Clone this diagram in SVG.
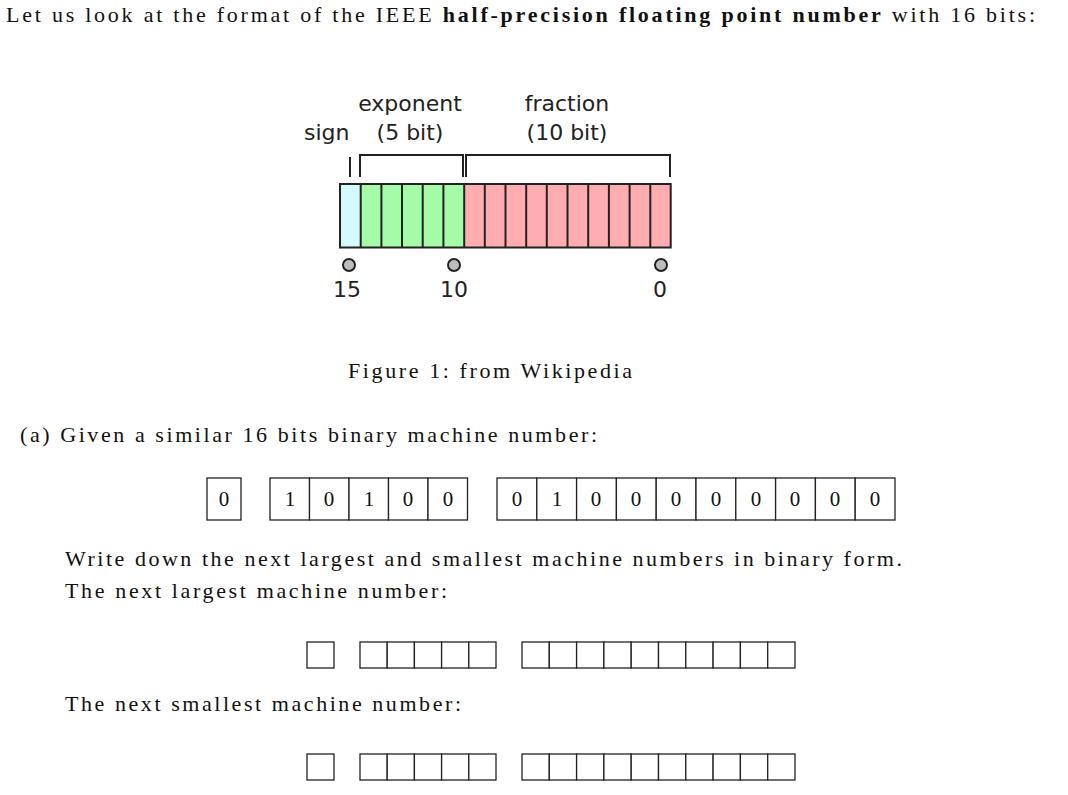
<svg xmlns="http://www.w3.org/2000/svg" width="1068" height="795" viewBox="0 0 1068 795">
<style>
.t{font-family:"Liberation Serif",serif;font-size:22px;fill:#111}
.d{font-family:"DejaVu Sans",sans-serif;font-size:22px;fill:#222}
.b{fill:#fff;stroke:#222;stroke-width:1.3}
.c{fill:none;stroke:#222;stroke-width:2}
.n{font-family:"Liberation Serif",serif;font-size:21px;fill:#111;text-anchor:middle}
</style>
<rect width="1068" height="795" fill="#fff"/>
<text class="t" x="6" y="22" textLength="1029" lengthAdjust="spacing">Let us look at the format of the IEEE <tspan font-weight="bold">half-precision floating point number</tspan> with 16 bits:</text>
<g id="figure">
<text class="d" x="410" y="111" text-anchor="middle">exponent</text>
<text class="d" x="410" y="140" text-anchor="middle">(5 bit)</text>
<text class="d" x="304" y="140">sign</text>
<text class="d" x="567" y="111" text-anchor="middle">fraction</text>
<text class="d" x="567" y="140" text-anchor="middle">(10 bit)</text>
<path class="c" d="M350 157V177M360 177V155H463V177M466 177V155H670V177"/>
<rect x="340" y="184" width="20.7" height="63.5" fill="#d2faff"/>
<rect x="360.7" y="184" width="103.5" height="63.5" fill="#a4fba8"/>
<rect x="464.2" y="184" width="206.5" height="63.5" fill="#ffadb0"/>
<g stroke="#222" stroke-width="2">
<rect x="340" y="184" width="330.7" height="63.5" fill="none"/>
<path d="M360.7 184v63.5M381.4 184v63.5M402 184v63.5M422.7 184v63.5M443.4 184v63.5M464.2 184v63.5M484.8 184v63.5M505.5 184v63.5M526.2 184v63.5M546.8 184v63.5M567.5 184v63.5M588.2 184v63.5M608.9 184v63.5M629.6 184v63.5M650.3 184v63.5"/>
</g>
<g fill="#bdbdbd" stroke="#222" stroke-width="2">
<circle cx="349" cy="265" r="6"/><circle cx="454" cy="265" r="6"/><circle cx="661" cy="265" r="6"/>
</g>
<text class="d" x="347" y="297" text-anchor="middle">15</text>
<text class="d" x="454" y="297" text-anchor="middle">10</text>
<text class="d" x="660" y="297" text-anchor="middle">0</text>
</g>
<text class="t" x="348" y="378" textLength="284" lengthAdjust="spacing">Figure 1: from Wikipedia</text>
<text class="t" x="20" y="442" textLength="577" lengthAdjust="spacing">(a) Given a similar 16 bits binary machine number:</text>
<g id="given">
<rect class="b" x="207" y="478" width="34" height="42"/>
<text class="n" x="224" y="506">0</text>
<g id="gexp">
<rect class="b" x="270" y="478" width="39.5" height="42"/><rect class="b" x="309.5" y="478" width="39.5" height="42"/><rect class="b" x="349" y="478" width="39.5" height="42"/><rect class="b" x="388.5" y="478" width="39.5" height="42"/><rect class="b" x="428" y="478" width="39.5" height="42"/>
<text class="n" x="290" y="506">1</text><text class="n" x="329" y="506">0</text><text class="n" x="369" y="506">1</text><text class="n" x="408" y="506">0</text><text class="n" x="448" y="506">0</text>
</g>
<g id="gfrac">
<rect class="b" x="497" y="478" width="39.8" height="42"/><rect class="b" x="536.8" y="478" width="39.8" height="42"/><rect class="b" x="576.6" y="478" width="39.8" height="42"/><rect class="b" x="616.4" y="478" width="39.8" height="42"/><rect class="b" x="656.2" y="478" width="39.8" height="42"/><rect class="b" x="696" y="478" width="39.8" height="42"/><rect class="b" x="735.8" y="478" width="39.8" height="42"/><rect class="b" x="775.6" y="478" width="39.8" height="42"/><rect class="b" x="815.4" y="478" width="39.8" height="42"/><rect class="b" x="855.2" y="478" width="39.8" height="42"/>
<text class="n" x="517" y="506">0</text><text class="n" x="557" y="506">1</text><text class="n" x="596" y="506">0</text><text class="n" x="636" y="506">0</text><text class="n" x="676" y="506">0</text><text class="n" x="716" y="506">0</text><text class="n" x="756" y="506">0</text><text class="n" x="795" y="506">0</text><text class="n" x="835" y="506">0</text><text class="n" x="875" y="506">0</text>
</g>
</g>
<text class="t" x="65" y="566" textLength="837" lengthAdjust="spacing">Write down the next largest and smallest machine numbers in binary form.</text>
<text class="t" x="65" y="598" textLength="382" lengthAdjust="spacing">The next largest machine number:</text>
<g id="largest">
<rect class="b" x="307" y="642" width="27" height="26"/>
<rect class="b" x="360" y="642" width="27.2" height="26"/><rect class="b" x="387.2" y="642" width="27.2" height="26"/><rect class="b" x="414.4" y="642" width="27.2" height="26"/><rect class="b" x="441.6" y="642" width="27.2" height="26"/><rect class="b" x="468.8" y="642" width="27.2" height="26"/>
<rect class="b" x="522" y="642" width="27.3" height="26"/><rect class="b" x="549.3" y="642" width="27.3" height="26"/><rect class="b" x="576.6" y="642" width="27.3" height="26"/><rect class="b" x="603.9" y="642" width="27.3" height="26"/><rect class="b" x="631.2" y="642" width="27.3" height="26"/><rect class="b" x="658.5" y="642" width="27.3" height="26"/><rect class="b" x="685.8" y="642" width="27.3" height="26"/><rect class="b" x="713.1" y="642" width="27.3" height="26"/><rect class="b" x="740.4" y="642" width="27.3" height="26"/><rect class="b" x="767.7" y="642" width="27.3" height="26"/>
</g>
<text class="t" x="65" y="711" textLength="396" lengthAdjust="spacing">The next smallest machine number:</text>
<g id="smallest">
<rect class="b" x="307" y="754" width="27" height="26"/>
<rect class="b" x="360" y="754" width="27.2" height="26"/><rect class="b" x="387.2" y="754" width="27.2" height="26"/><rect class="b" x="414.4" y="754" width="27.2" height="26"/><rect class="b" x="441.6" y="754" width="27.2" height="26"/><rect class="b" x="468.8" y="754" width="27.2" height="26"/>
<rect class="b" x="522" y="754" width="27.3" height="26"/><rect class="b" x="549.3" y="754" width="27.3" height="26"/><rect class="b" x="576.6" y="754" width="27.3" height="26"/><rect class="b" x="603.9" y="754" width="27.3" height="26"/><rect class="b" x="631.2" y="754" width="27.3" height="26"/><rect class="b" x="658.5" y="754" width="27.3" height="26"/><rect class="b" x="685.8" y="754" width="27.3" height="26"/><rect class="b" x="713.1" y="754" width="27.3" height="26"/><rect class="b" x="740.4" y="754" width="27.3" height="26"/><rect class="b" x="767.7" y="754" width="27.3" height="26"/>
</g>
</svg>
